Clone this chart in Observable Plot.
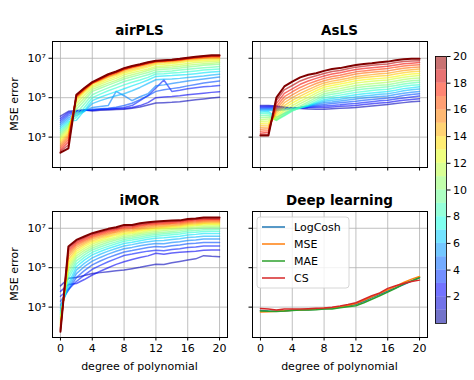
<!DOCTYPE html>
<html><head><meta charset="utf-8">
<script src="https://cdn.jsdelivr.net/npm/d3@7"></script>
<script src="https://cdn.jsdelivr.net/npm/@observablehq/plot@0.6"></script>
<style>
body{margin:0;background:#fff;}
#chart{position:relative;width:474px;height:380px;font-family:"DejaVu Sans",sans-serif;color:#000;}
#chart svg{position:absolute;}
</style></head><body><div id="chart"></div>
<script>
// ---------------- data (log10 of MSE error) ----------------
const degrees = [0,1,2,3,4,5,6,7,8,9,10,11,12,13,14,15,16,17,18,19,20];
const lineIndex = [1,2,3,4,5,6,7,8,9,10,11,12,13,14,15,16,17,18,19,20];
const panelTitles = ["airPLS","AsLS","iMOR","Deep learning"];
const yTicks = [1e3,1e5,1e7];
const xTicks = [0,4,8,12,16,20];
const cbarTicks = [2,4,6,8,10,12,14,16,18,20];
const cbarLevels = [0,1,2,3,4,5,6,7,8,9,10,11,12,13,14,15,16,17,18,19];

const airPLS = [
[4.06,4.31,4.35,4.38,4.33,4.36,4.38,4.4,4.42,4.47,4.53,4.63,4.73,4.75,4.77,4.8,4.85,4.9,4.94,4.98,5.02],
[3.95,4.25,4.33,4.37,4.36,4.4,4.42,4.44,4.45,4.5,4.6,4.75,5.0,5.03,5.06,5.1,5.15,5.19,5.23,5.27,5.3],
[3.85,4.17,4.3,4.36,4.38,4.41,4.44,4.47,4.5,4.6,4.85,5.1,5.49,5.9,5.32,5.38,5.45,5.5,5.55,5.58,5.62],
[3.75,4.08,4.27,4.34,4.42,4.44,4.47,4.52,4.6,4.72,4.9,5.1,5.32,5.4,5.46,5.52,5.6,5.67,5.74,5.8,5.85],
[3.65,3.98,4.2,4.33,4.5,4.55,4.6,5.32,5.1,4.85,5.05,5.2,5.6,5.65,5.72,5.78,5.85,5.9,5.95,6.0,6.05],
[3.55,3.88,4.1,4.3,4.7,4.85,4.98,5.1,5.2,5.35,5.52,5.72,5.91,5.93,5.95,5.98,6.02,6.06,6.1,6.15,6.19],
[3.45,3.8,3.85,4.35,4.85,5.02,5.17,5.31,5.45,5.6,5.74,5.9,6.08,6.1,6.12,6.15,6.18,6.22,6.26,6.3,6.33],
[3.35,3.72,4.0,4.5,5.0,5.18,5.35,5.5,5.65,5.78,5.9,6.03,6.2,6.22,6.25,6.28,6.32,6.36,6.4,6.43,6.46],
[3.25,3.65,4.2,4.68,5.15,5.33,5.5,5.66,5.82,5.94,6.05,6.16,6.3,6.33,6.36,6.4,6.44,6.48,6.52,6.55,6.58],
[3.15,3.58,4.4,4.85,5.32,5.48,5.64,5.79,5.95,6.06,6.17,6.28,6.41,6.44,6.47,6.51,6.56,6.6,6.64,6.67,6.7],
[3.05,3.5,4.55,4.98,5.42,5.58,5.74,5.88,6.05,6.16,6.27,6.38,6.5,6.53,6.56,6.6,6.65,6.69,6.72,6.75,6.78],
[2.95,3.4,4.7,5.12,5.52,5.68,5.84,5.98,6.16,6.26,6.36,6.46,6.58,6.61,6.64,6.68,6.74,6.78,6.81,6.84,6.86],
[2.85,3.3,4.85,5.25,5.6,5.77,5.93,6.07,6.25,6.35,6.45,6.55,6.68,6.7,6.73,6.77,6.83,6.86,6.89,6.91,6.93],
[2.75,3.2,4.95,5.33,5.69,5.85,6.02,6.15,6.33,6.43,6.52,6.62,6.75,6.77,6.8,6.84,6.9,6.93,6.96,6.98,6.99],
[2.65,3.1,5.0,5.37,5.72,5.89,6.07,6.21,6.4,6.5,6.59,6.69,6.8,6.82,6.85,6.88,6.95,6.98,7.01,7.03,7.03],
[2.55,3.0,5.04,5.4,5.74,5.91,6.1,6.24,6.42,6.53,6.62,6.72,6.82,6.84,6.87,6.9,6.97,7.0,7.03,7.06,7.06],
[2.45,2.88,5.07,5.43,5.75,5.93,6.13,6.27,6.44,6.55,6.64,6.74,6.83,6.85,6.88,6.92,6.98,7.02,7.06,7.09,7.09],
[2.35,2.75,5.1,5.45,5.76,5.95,6.15,6.29,6.46,6.57,6.66,6.76,6.84,6.87,6.9,6.94,6.99,7.04,7.08,7.11,7.11],
[2.28,2.6,5.12,5.47,5.78,5.97,6.17,6.31,6.48,6.59,6.68,6.78,6.86,6.89,6.92,6.96,7.01,7.06,7.1,7.13,7.13],
[2.21,2.43,5.15,5.49,5.79,5.99,6.19,6.33,6.5,6.61,6.7,6.8,6.87,6.9,6.93,6.97,7.03,7.08,7.12,7.15,7.15]
];

const AsLS = [
[4.6,4.6,4.58,4.52,4.48,4.45,4.43,4.42,4.42,4.44,4.46,4.48,4.5,4.54,4.58,4.62,4.65,4.7,4.75,4.79,4.82],
[4.55,4.56,4.55,4.52,4.48,4.48,4.49,4.5,4.5,4.53,4.56,4.58,4.6,4.65,4.69,4.73,4.76,4.82,4.87,4.91,4.95],
[4.5,4.51,4.5,4.49,4.47,4.49,4.52,4.55,4.58,4.61,4.64,4.68,4.71,4.76,4.8,4.84,4.87,4.93,4.99,5.04,5.08],
[4.45,4.46,4.45,4.46,4.46,4.5,4.55,4.6,4.66,4.7,4.74,4.78,4.82,4.87,4.91,4.95,4.98,5.04,5.11,5.16,5.2],
[4.4,4.41,4.4,4.42,4.45,4.5,4.56,4.65,4.74,4.78,4.83,4.88,4.93,4.98,5.02,5.06,5.09,5.16,5.23,5.28,5.32],
[4.35,4.36,4.35,4.38,4.45,4.5,4.58,4.7,4.82,4.87,4.92,4.98,5.04,5.09,5.13,5.17,5.2,5.27,5.35,5.4,5.44],
[4.28,4.3,4.0,4.2,4.4,4.48,4.59,4.74,4.9,4.96,5.02,5.09,5.15,5.2,5.24,5.28,5.32,5.38,5.46,5.51,5.55],
[4.2,4.22,3.9,4.1,4.35,4.47,4.62,4.81,5.0,5.06,5.13,5.2,5.27,5.32,5.36,5.4,5.43,5.5,5.58,5.63,5.66],
[4.1,4.12,3.85,4.08,4.32,4.5,4.7,4.9,5.1,5.17,5.24,5.32,5.39,5.44,5.48,5.52,5.55,5.62,5.7,5.75,5.78],
[4.0,4.02,3.85,4.15,4.38,4.58,4.79,5.0,5.2,5.28,5.35,5.43,5.5,5.55,5.59,5.63,5.66,5.73,5.81,5.86,5.89],
[3.9,3.92,3.92,4.25,4.48,4.7,4.9,5.12,5.31,5.39,5.46,5.54,5.62,5.67,5.71,5.75,5.78,5.85,5.92,5.97,6.0],
[3.8,3.82,4.0,4.36,4.6,4.82,5.02,5.23,5.42,5.51,5.58,5.66,5.74,5.79,5.83,5.87,5.9,5.97,6.04,6.09,6.12],
[3.7,3.72,4.1,4.48,4.73,4.95,5.15,5.35,5.53,5.62,5.69,5.77,5.86,5.91,5.95,5.98,6.01,6.08,6.15,6.2,6.23],
[3.6,3.62,4.2,4.6,4.87,5.08,5.28,5.47,5.64,5.73,5.8,5.88,5.97,6.02,6.06,6.1,6.13,6.2,6.26,6.31,6.34],
[3.5,3.52,4.3,4.75,5.0,5.22,5.41,5.59,5.75,5.84,5.91,5.99,6.08,6.13,6.17,6.21,6.24,6.31,6.38,6.42,6.45],
[3.4,3.42,4.42,4.9,5.14,5.37,5.55,5.72,5.86,5.96,6.02,6.11,6.2,6.25,6.29,6.33,6.36,6.43,6.49,6.53,6.56],
[3.3,3.33,4.55,5.05,5.3,5.52,5.7,5.85,5.98,6.08,6.14,6.23,6.31,6.36,6.4,6.44,6.48,6.55,6.61,6.64,6.67],
[3.2,3.25,4.7,5.22,5.45,5.68,5.85,5.98,6.1,6.2,6.26,6.35,6.43,6.48,6.52,6.56,6.59,6.66,6.72,6.75,6.78],
[3.12,3.15,4.85,5.4,5.62,5.85,6.0,6.11,6.23,6.33,6.38,6.47,6.55,6.6,6.64,6.68,6.71,6.78,6.83,6.86,6.88],
[3.08,3.08,5.0,5.57,5.82,6.03,6.16,6.24,6.36,6.46,6.5,6.58,6.66,6.71,6.75,6.8,6.83,6.9,6.95,6.98,6.98]
];

const iMOR = [
[4.08,4.46,4.5,4.6,4.71,4.75,4.8,4.85,4.88,4.95,5.02,5.1,5.17,5.16,5.25,5.32,5.39,5.45,5.61,5.58,5.56],
[3.8,4.15,4.2,4.4,4.63,4.82,5.0,5.17,5.3,5.42,5.52,5.6,5.73,5.68,5.75,5.78,5.81,5.83,5.88,5.9,5.9],
[3.55,3.9,4.3,4.62,4.92,5.12,5.3,5.46,5.62,5.69,5.77,5.84,5.89,5.86,5.92,5.96,6.02,6.05,6.1,6.1,6.1],
[3.3,3.85,4.5,4.85,5.14,5.34,5.51,5.66,5.8,5.87,5.95,6.02,6.07,6.05,6.11,6.15,6.21,6.24,6.28,6.28,6.28],
[3.1,3.9,4.7,5.05,5.33,5.52,5.69,5.83,5.96,6.03,6.11,6.18,6.23,6.22,6.28,6.32,6.38,6.41,6.45,6.45,6.45],
[2.95,4.05,4.88,5.22,5.5,5.68,5.84,5.97,6.1,6.17,6.25,6.32,6.37,6.38,6.43,6.47,6.53,6.56,6.6,6.6,6.6],
[2.8,4.2,5.05,5.38,5.65,5.82,5.97,6.1,6.23,6.29,6.37,6.44,6.49,6.52,6.56,6.6,6.66,6.69,6.73,6.73,6.73],
[2.7,4.45,5.2,5.52,5.78,5.94,6.08,6.21,6.34,6.4,6.47,6.54,6.59,6.63,6.67,6.71,6.77,6.8,6.84,6.85,6.85],
[2.6,4.62,5.35,5.65,5.9,6.05,6.19,6.31,6.43,6.49,6.56,6.63,6.68,6.72,6.76,6.8,6.86,6.89,6.93,6.94,6.95],
[2.5,4.8,5.48,5.77,6.0,6.15,6.29,6.4,6.52,6.57,6.64,6.71,6.76,6.8,6.84,6.88,6.94,6.97,7.01,7.02,7.03],
[2.4,4.95,5.6,5.88,6.1,6.25,6.38,6.48,6.6,6.65,6.72,6.79,6.84,6.88,6.92,6.95,7.01,7.04,7.08,7.09,7.1],
[2.3,5.1,5.72,5.98,6.2,6.34,6.46,6.56,6.68,6.72,6.79,6.86,6.91,6.95,6.99,7.02,7.08,7.11,7.15,7.16,7.17],
[2.2,5.25,5.83,6.08,6.29,6.42,6.54,6.64,6.75,6.79,6.86,6.92,6.97,7.01,7.05,7.08,7.14,7.17,7.21,7.22,7.22],
[2.12,5.4,5.93,6.17,6.37,6.5,6.61,6.71,6.82,6.85,6.92,6.98,7.03,7.07,7.1,7.13,7.19,7.22,7.26,7.27,7.27],
[2.05,5.55,6.03,6.25,6.45,6.57,6.68,6.78,6.89,6.91,6.98,7.04,7.09,7.12,7.15,7.18,7.24,7.27,7.31,7.32,7.32],
[1.98,5.68,6.12,6.33,6.52,6.64,6.75,6.84,6.95,6.97,7.04,7.1,7.15,7.18,7.21,7.23,7.29,7.32,7.36,7.37,7.37],
[1.92,5.8,6.2,6.4,6.58,6.7,6.81,6.9,7.01,7.03,7.1,7.16,7.2,7.23,7.26,7.28,7.34,7.37,7.41,7.42,7.42],
[1.86,5.9,6.28,6.47,6.64,6.76,6.87,6.95,7.07,7.08,7.15,7.21,7.25,7.28,7.31,7.33,7.39,7.42,7.46,7.46,7.46],
[1.8,6.0,6.35,6.53,6.7,6.81,6.92,7.0,7.12,7.13,7.2,7.26,7.3,7.33,7.35,7.37,7.43,7.46,7.5,7.5,7.5],
[1.75,6.07,6.41,6.58,6.75,6.86,6.97,7.05,7.17,7.17,7.25,7.3,7.34,7.37,7.39,7.4,7.47,7.5,7.54,7.54,7.54]
];

const dlMethods = ["LogCosh","MSE","MAE","CS"];
const dlColors = ["#1f77b4","#ff7f0e","#2ca02c","#d62728"];
const dlValues = [
[2.83,2.8,2.79,2.8,2.84,2.86,2.87,2.89,2.92,2.95,3.0,3.06,3.15,3.3,3.48,3.65,3.82,3.98,4.15,4.32,4.5],
[2.75,2.77,2.79,2.82,2.84,2.86,2.88,2.9,2.94,2.97,3.02,3.08,3.18,3.35,3.52,3.7,3.88,4.05,4.25,4.42,4.55],
[2.8,2.79,2.78,2.8,2.83,2.85,2.86,2.87,2.9,2.9,2.97,3.02,3.07,3.22,3.4,3.58,3.76,3.95,4.17,4.33,4.49],
[2.93,2.9,2.86,2.9,2.91,2.9,2.92,2.94,2.96,3.0,3.06,3.13,3.22,3.4,3.58,3.72,3.95,4.08,4.2,4.3,4.37]
];

// ---------------- helpers ----------------
function pw(pts, t) {
  for (let i = 1; i < pts.length; i++) {
    if (t <= pts[i][0]) {
      const [x0, y0] = pts[i - 1], [x1, y1] = pts[i];
      return y0 + (y1 - y0) * (t - x0) / (x1 - x0);
    }
  }
  return pts[pts.length - 1][1];
}
const jetR = [[0,0],[0.35,0],[0.66,1],[0.89,1],[1,0.5]];
const jetG = [[0,0],[0.125,0],[0.375,1],[0.64,1],[0.91,0],[1,0]];
const jetB = [[0,0.5],[0.11,1],[0.34,1],[0.65,0],[1,0]];
function jet(t) {
  return d3.rgb(255 * pw(jetR, t), 255 * pw(jetG, t), 255 * pw(jetB, t)).formatHex();
}
const sup = "⁰¹²³⁴⁵⁶⁷⁸⁹";
const logFmt = d => "10" + String(Math.round(Math.log10(d))).split("").map(c => sup[+c]).join("");

const FW = 175, FH = 126;
const gridStyle = {stroke: "#b0b0b0", strokeOpacity: 1, strokeWidth: 0.8};
const baseStyle = {fontFamily: "DejaVu Sans", fontSize: "11px", background: "transparent", overflow: "visible", color: "black"};

function panel(marks, {left, top, w, h, ml, mt, showX, showY}) {
  const svg = Plot.plot({
    width: w, height: h,
    marginLeft: ml, marginRight: w - ml - FW, marginTop: mt, marginBottom: h - mt - FH,
    x: {domain: [-1, 21]},
    y: {type: "log", domain: [10 ** 1.46, 10 ** 7.85]},
    color: {type: "identity"},
    style: baseStyle,
    marks: [
      Plot.gridX(xTicks, gridStyle),
      Plot.gridY(yTicks, gridStyle),
      ...marks,
      Plot.frame({stroke: "black", strokeWidth: 1}),
      Plot.axisX(xTicks, {tickSize: 3.5, tickPadding: 3, tickFormat: showX ? d => String(d) : () => "", label: null}),
      Plot.axisY(yTicks, {tickSize: 3.5, tickPadding: 3, tickFormat: showY ? logFmt : () => "", label: null})
    ]
  });
  svg.style.left = left + "px";
  svg.style.top = top + "px";
  return svg;
}

function fanMarks(rows) {
  const data = rows.flatMap((r, i) => r.map((v, j) => ({k: lineIndex[i], x: degrees[j], y: 10 ** v})));
  const last = lineIndex[lineIndex.length - 1];
  return [
    Plot.line(data.filter(d => d.k < last), {x: "x", y: "y", z: "k", stroke: d => jet(d.k / 20), strokeOpacity: 0.6, strokeWidth: 1.5}),
    Plot.line(data.filter(d => d.k === last), {x: "x", y: "y", stroke: d => jet(d.k / 20), strokeWidth: 2})
  ];
}

function dlMarks() {
  const data = dlValues.flatMap((r, i) => r.map((v, j) => ({m: dlMethods[i], c: dlColors[i], x: degrees[j], y: 10 ** v})));
  return [Plot.line(data, {x: "x", y: "y", z: "m", stroke: "c", strokeWidth: 1.5})];
}

const chart = document.getElementById("chart");
chart.appendChild(panel(fanMarks(airPLS), {left: 0, top: 0, w: 237, h: 185, ml: 52, mt: 41, showX: false, showY: true}));
chart.appendChild(panel(fanMarks(AsLS), {left: 237, top: 0, w: 237, h: 185, ml: 15, mt: 41, showX: false, showY: false}));
chart.appendChild(panel(fanMarks(iMOR), {left: 0, top: 185, w: 237, h: 195, ml: 52, mt: 26, showX: true, showY: true}));
chart.appendChild(panel(dlMarks(), {left: 237, top: 185, w: 237, h: 195, ml: 15, mt: 26, showX: true, showY: false}));

// colorbar
const cb = Plot.plot({
  width: 49, height: 380,
  marginLeft: 10, marginRight: 28, marginTop: 56, marginBottom: 57,
  y: {domain: [0, 20]},
  color: {type: "identity"},
  style: baseStyle,
  marks: [
    Plot.rect(cbarLevels, {y1: d => d, y2: d => d + 1, fill: d => jet((d + 0.5) / 20), fillOpacity: 0.55}),
    Plot.frame({stroke: "black", strokeWidth: 0.8}),
    Plot.axisY(cbarTicks, {anchor: "right", tickSize: 3.5, tickPadding: 3, label: null})
  ]
});
cb.style.left = "425px";
cb.style.top = "0px";
chart.appendChild(cb);

// text overlay: titles, axis labels, legend
const ov = d3.select(chart).append("svg")
  .attr("width", 474).attr("height", 380)
  .style("left", "0px").style("top", "0px")
  .attr("font-family", "DejaVu Sans");
const titlePos = [[139.5, 35], [339.5, 35], [139.5, 205], [339.5, 205]];
panelTitles.forEach((t, i) => {
  ov.append("text").attr("x", titlePos[i][0]).attr("y", titlePos[i][1])
    .attr("text-anchor", "middle").attr("font-weight", "bold").attr("font-size", 13.5).text(t);
});
[104, 274].forEach(cy => {
  ov.append("text").attr("transform", `translate(14,${cy}) rotate(-90)`)
    .attr("text-anchor", "middle").attr("dominant-baseline", "central").attr("font-size", 11).text("MSE error");
});
[139.5, 339.5].forEach(cx => {
  ov.append("text").attr("x", cx).attr("y", 370).attr("text-anchor", "middle").attr("font-size", 11).text("degree of polynomial");
});
// legend of the deep learning panel
const lg = ov.append("g");
lg.append("rect").attr("x", 257).attr("y", 217).attr("width", 92).attr("height", 71).attr("rx", 3)
  .attr("fill", "white").attr("fill-opacity", 0.8).attr("stroke", "#cccccc").attr("stroke-width", 0.8);
dlMethods.forEach((m, i) => {
  const yy = 227 + i * 17;
  lg.append("line").attr("x1", 262).attr("x2", 285).attr("y1", yy).attr("y2", yy)
    .attr("stroke", dlColors[i]).attr("stroke-width", 1.5);
  lg.append("text").attr("x", 294).attr("y", yy).attr("dominant-baseline", "central").attr("font-size", 11).text(m);
});
</script>
</body></html>
